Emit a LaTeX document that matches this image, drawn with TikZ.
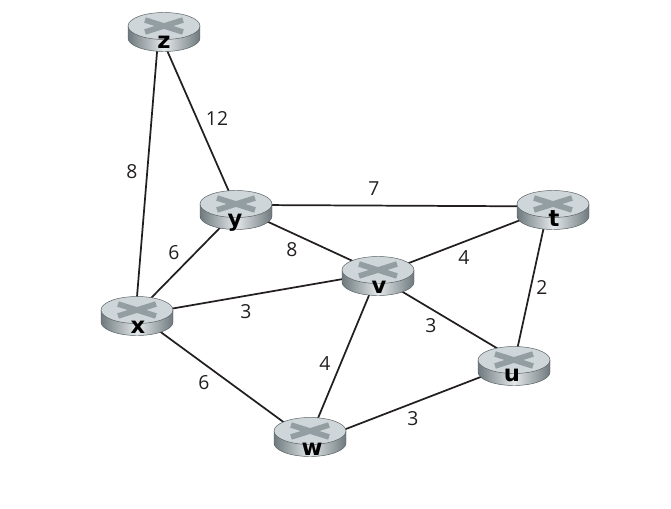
\documentclass[tikz,border=0pt]{standalone}
\usepackage{fontspec}
\setmainfont{Open Sans}
\newfontfamily\routerfont{DejaVu Sans}
\usetikzlibrary{math}
\usetikzlibrary{shapes.geometric}

\definecolor{routertop}{HTML}{CFD6DA}
\definecolor{routerdark}{HTML}{6F7A7E}
\definecolor{routerlight}{HTML}{E4E8EA}
\definecolor{routercross}{HTML}{939EA2}
\definecolor{routerrim}{HTML}{555D60}
\definecolor{linkcolor}{HTML}{231F20}

\tikzset{
  routerbase/.style={ellipse, minimum width=54pt, minimum height=28.5pt, inner sep=0pt},
  routername/.style={font=\routerfont\bfseries\fontsize{17pt}{17pt}\selectfont, text=black, inner sep=0pt},
  link/.style={draw=linkcolor, line width=1.3pt},
  cost/.style={font=\fontsize{14.5pt}{14.5pt}\selectfont, text=linkcolor, inner sep=0pt, yshift=-0.5pt},
}

% router: name, label offset from the middle of its disc
\newcommand{\router}[2]{
  \tikzmath{
    \rx    = 36;   % half width of the disc
    \ry    = 13.5; % half height of the disc
    \depth = 12;   % height of the side
    \arm   = 19;   % reach of the cross
    \rise  = 6;    % vertical reach of the cross
  }
  \begin{scope}[shift={(#1)}, shift={(0,-6)}]
    % side of the cylinder
    \path[left color=routerdark, right color=routerdark, middle color=routerlight]
      (-\rx,0) -- (-\rx,\depth) arc [start angle=180, end angle=0, x radius=\rx, y radius=\ry] -- (\rx,0) -- cycle;
    \draw[routerrim, line width=0.35pt]
      (-\rx,0) -- (-\rx,\depth) arc [start angle=180, end angle=0, x radius=\rx, y radius=\ry] -- (\rx,0);
    % top of the cylinder
    \fill[routertop, draw=routerrim, line width=0.35pt] (0,0) ellipse [x radius=\rx, y radius=\ry];
    % cross
    \draw[routercross, line width=4.2pt] (-\arm,-\rise) -- (\arm,\rise);
    \draw[routercross, line width=4.2pt] (-\arm,\rise) -- (\arm,-\rise);
    \node[routername] (#1label) at (#2) {#1};
  \end{scope}
}

\begin{document}
\begin{tikzpicture}[x=0.75pt,y=-0.75pt]

  \useasboundingbox (0,0) rectangle (671,508);

  % Anchors of the routers
  \node[routerbase] (z) at (164,32) {};
  \node[routerbase] (y) at (236,210) {};
  \node[routerbase] (x) at (137,316) {};
  \node[routerbase] (v) at (378,276) {};
  \node[routerbase] (t) at (553,210) {};
  \node[routerbase] (u) at (514,366) {};
  \node[routerbase] (w) at (310,437) {};

  % Links
  \draw[link] (z.-110) -- (x.90);
  \draw[link] (z.-80)  -- (y.111);
  \draw[link] (y.8)    -- (t.174);
  \draw[link] (y.-20)  -- (v.149);
  \draw[link] (y.-132) -- (x.52);
  \draw[link] (x.12)   -- (v.185);
  \draw[link] (x.-34)  -- (w.151);
  \draw[link] (v.23)   -- (t.197);
  \draw[link] (v.-33)  -- (u.133);
  \draw[link] (v.-115) -- (w.67);
  \draw[link] (t.-117) -- (u.79);
  \draw[link] (w.12)   -- (u.198);

  % Routers on top of the links
  \router{z}{0,16}
  \router{y}{-1,19}
  \router{x}{1,17}
  \router{v}{1,17}
  \router{t}{1,15}
  \router{u}{-2,15}
  \router{w}{2,18}

  % Costs of the links
  \node[cost] (czy) at (217,118) {12};
  \node[cost] (czx) at (132,171) {8};
  \node[cost] (cyt) at (374,188) {7};
  \node[cost] (cyx) at (174,252) {6};
  \node[cost] (cyv) at (292,249) {8};
  \node[cost] (cvt) at (464,257) {4};
  \node[cost] (ctu) at (542,287) {2};
  \node[cost] (cxv) at (246,311) {3};
  \node[cost] (cvu) at (431,325) {3};
  \node[cost] (cvw) at (325,363) {4};
  \node[cost] (cxw) at (204,382) {6};
  \node[cost] (cwu) at (413,418) {3};

\end{tikzpicture}
\end{document}
